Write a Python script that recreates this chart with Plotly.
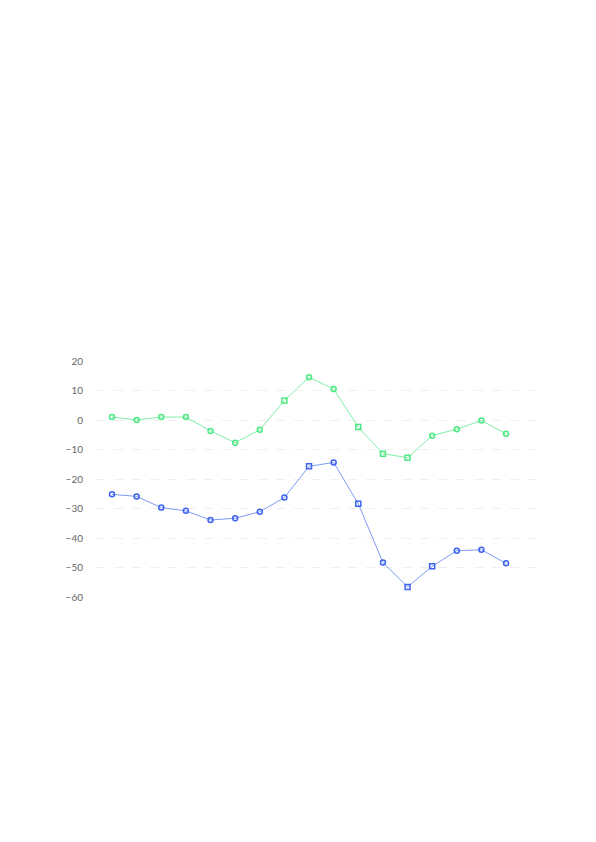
import plotly.graph_objects as go

x = list(range(17))
green = [1, 0, 1, 1, -3.7, -7.7, -3.3, 6.6, 14.5, 10.5, -2.4, -11.4, -12.8, -5.3, -3.1, -0.2, -4.7]
blue = [-25.2, -25.9, -29.7, -30.8, -33.9, -33.3, -31.1, -26.3, -15.7, -14.4, -28.4, -48.3, -56.6, -49.6, -44.3, -44.0, -48.6]
green_sym = ["circle-open"] * 17
for i in (7, 10, 11, 12):
    green_sym[i] = "square-open"
blue_sym = ["circle-open"] * 17
for i in (8, 10, 12, 13):
    blue_sym[i] = "square-open"

fig = go.Figure()
fig.add_trace(go.Scatter(x=x, y=green, mode="lines+markers",
                         line=dict(color="#7df0a6", width=1),
                         marker=dict(symbol=green_sym, size=5, color="#4ee884", line=dict(width=1.5))))
fig.add_trace(go.Scatter(x=x, y=blue, mode="lines+markers",
                         line=dict(color="#7f9cf5", width=1),
                         marker=dict(symbol=blue_sym, size=5, color="#3d63f0", line=dict(width=1.5))))
fig.update_layout(
    width=596, height=842, showlegend=False,
    paper_bgcolor="white", plot_bgcolor="white",
    margin=dict(l=88, r=61, t=353, b=253),
    font=dict(family="Lato", size=10, color="#666"),
    xaxis=dict(range=[-0.65, 17.5], showticklabels=False, showgrid=False, zeroline=False, showline=False),
    yaxis=dict(range=[-60, 20], dtick=10, showgrid=True, griddash="dash", gridcolor="#f0f0f0",
               zeroline=False, showline=False, ticks="", ticklabelstandoff=12),
)
fig.write_html("out.html")
